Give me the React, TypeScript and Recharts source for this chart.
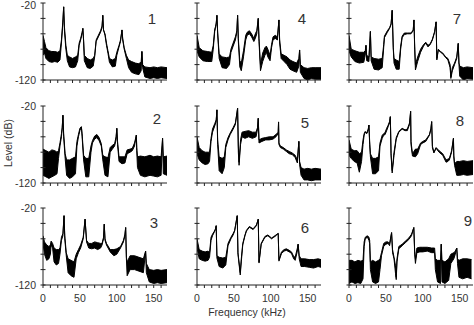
import React from 'react';
import { ComposedChart, Area, XAxis, YAxis } from 'recharts';

// Each point: [frequency kHz, lower level dB, upper level dB].
// Where the spectrum is noisy the two levels span the noise band.
type Pt = [number, number, number];

const spectrum1: Pt[] = [
  [0, -88, -62], [2, -85, -70], [4, -92, -78], [8, -96, -82], [12, -97, -83], [16, -96, -83],
  [20, -97, -84], [23, -94, -82], [25, -72, -68], [27, -45, -42], [28, -25, -25], [29, -55, -50],
  [31, -80, -75], [33, -95, -88], [36, -103, -90], [40, -104, -92], [44, -103, -90], [47, -95, -88],
  [49, -75, -72], [51, -68, -66], [53, -60, -58], [54, -53, -53], [55, -70, -68], [56, -95, -88],
  [60, -104, -92], [64, -105, -94], [68, -102, -92], [70, -90, -88], [72, -70, -68], [75, -64, -62],
  [78, -58, -56], [80, -52, -50], [81, -36, -36], [82, -55, -55], [84, -62, -60], [86, -75, -72],
  [88, -85, -82], [90, -97, -92], [94, -103, -94], [98, -102, -92], [100, -88, -84], [103, -77, -75],
  [105, -70, -68], [107, -55, -55], [108, -68, -66], [110, -80, -78], [113, -92, -88], [116, -104, -94],
  [120, -110, -96], [125, -112, -98], [130, -113, -99], [133, -108, -96], [134, -83, -83], [135, -104, -100],
  [138, -116, -103], [145, -118, -104], [150, -117, -103], [155, -118, -104], [160, -117, -103], [168, -118, -104],
];

const spectrum2: Pt[] = [
  [0, -110, -76], [4, -112, -78], [8, -114, -80], [12, -112, -77], [16, -110, -78], [19, -108, -80],
  [21, -88, -78], [23, -72, -68], [25, -60, -56], [26, -50, -48], [27, -32, -32], [28, -60, -56],
  [30, -88, -82], [32, -110, -90], [36, -114, -90], [40, -112, -88], [44, -108, -86], [46, -72, -66],
  [48, -60, -57], [50, -52, -49], [52, -47, -47], [53, -60, -56], [55, -90, -84], [58, -112, -88],
  [62, -112, -88], [65, -80, -72], [67, -68, -65], [70, -63, -59], [73, -61, -57], [76, -65, -61],
  [79, -72, -69], [81, -90, -84], [84, -110, -86], [88, -112, -87], [91, -80, -74], [94, -76, -71],
  [97, -72, -69], [99, -64, -60], [100, -49, -49], [101, -70, -66], [103, -92, -86], [107, -95, -86],
  [111, -94, -86], [114, -82, -77], [118, -80, -76], [121, -78, -75], [124, -72, -68], [126.5, -57.7, -57.7],
  [127, -78, -74], [128, -100, -86], [132, -110, -85], [138, -112, -86], [145, -110, -84], [150, -111, -86],
  [155, -112, -85], [160, -110, -86], [162, -62, -62], [163, -108, -86], [168, -110, -85],
];

const spectrum3: Pt[] = [
  [0, -66, -56], [2, -80, -64], [5, -88, -68], [8, -86, -70], [10, -80, -68], [11, -68, -63],
  [13, -72, -66], [15, -90, -72], [18, -94, -74], [21, -92, -74], [23, -80, -72], [25, -62, -58],
  [27, -56, -53], [28.5, -30, -30], [29.5, -60, -56], [31.5, -82, -78], [34, -104, -86], [38, -108, -88],
  [42, -110, -90], [45, -86, -80], [48, -78, -74], [51, -72, -68], [54.5, -60, -58], [57, -34.5, -34.5],
  [59, -64, -62], [62, -72, -66], [66, -73, -66], [70, -72, -64], [74, -74, -65], [78, -72, -66],
  [80, -68, -66], [82, -60, -58], [83, -41, -41], [84, -62, -60], [86, -68, -66], [91, -77, -74],
  [96, -82, -74], [100, -80, -73], [105, -72, -70], [109, -64, -62], [111, -56, -54], [112, -45.4, -45.4],
  [113, -86, -84], [114, -108, -90], [118, -100, -82], [124, -100, -82], [130, -102, -84], [136, -104, -86],
  [139, -76, -76], [140, -104, -92], [144, -116, -100], [150, -118, -101], [155, -117, -100], [160, -118, -101],
  [168, -117, -100],
];

const spectrum4: Pt[] = [
  [0, -82, -62], [3, -90, -78], [8, -95, -82], [14, -96, -83], [20, -96, -84], [22, -80, -75],
  [24, -57, -54], [25, -53, -51], [26, -48, -46], [27, -36, -36], [28, -60, -58], [30, -92, -86],
  [34, -104, -90], [40, -105, -91], [44, -100, -90], [46, -84, -80], [49, -76, -72], [52, -68, -64],
  [54, -58, -56], [55, -36, -36], [56, -70, -66], [58, -103, -95], [60, -108, -98], [63, -90, -82],
  [66, -68, -62], [68, -62, -58], [71, -60, -56], [74, -64, -60], [77, -70, -66], [79, -66, -60],
  [81, -60, -56], [83, -40, -40], [84, -70, -66], [86, -108, -100], [89, -96, -85], [92, -88, -78],
  [94, -84, -76], [96, -90, -80], [99, -95, -88], [101, -78, -74], [103, -68, -64], [106, -66, -62],
  [109, -68, -64], [111, -42, -42], [112, -72, -68], [114, -92, -86], [118, -96, -88], [122, -100, -90],
  [126, -106, -94], [130, -108, -96], [135, -110, -98], [138, -102, -92], [139, -81, -81], [140, -110, -100],
  [145, -118, -104], [150, -120, -105], [155, -118, -104], [160, -119, -104], [168, -119, -104],
];

const spectrum5: Pt[] = [
  [0, -82, -60], [3, -90, -74], [7, -94, -78], [11, -96, -80], [15, -95, -80], [17, -92, -80],
  [19, -66, -62], [21, -54, -50], [24, -46, -43], [26, -40, -38], [27, -25, -25], [28, -70, -64],
  [30, -104, -86], [34, -108, -88], [37, -100, -86], [39, -74, -70], [42, -64, -61], [45, -57, -55],
  [49, -50, -48], [52, -44, -42], [55, -23, -23], [56, -80, -72], [57, -97, -93], [59, -70, -64],
  [61, -60, -54], [65, -62, -53], [70, -60, -52], [75, -62, -54], [80, -60, -54], [82, -50, -48],
  [83, -36, -36], [84, -68, -64], [88, -66, -62], [93, -64, -61], [98, -64, -60], [103, -63, -60],
  [107, -60, -57], [110, -56, -54], [110.5, -40.7, -40.7], [111, -70, -68], [113, -74, -72], [117, -76, -74],
  [121, -79, -77], [125, -82, -79], [129, -83, -81], [133, -87, -84], [136, -94, -90], [138, -66, -66],
  [139, -96, -92], [141, -110, -100], [145, -116, -102], [150, -116, -101], [155, -117, -102], [160, -116, -101],
  [168, -116, -102],
];

const spectrum6: Pt[] = [
  [0, -72, -60], [3, -86, -74], [7, -88, -76], [11, -89, -77], [15, -88, -76], [17, -84, -78],
  [19, -62, -58], [21, -56, -54], [23.6, -51, -50], [25, -48, -47], [26, -43, -43], [27, -85, -82],
  [30, -96, -84], [35, -98, -85], [39, -94, -84], [42, -69, -66], [46, -60, -58], [49, -55, -53],
  [51, -50, -49], [54.5, -30, -30], [55.5, -80, -78], [58.6, -107, -104], [60, -90, -86], [62, -68, -66],
  [65, -56, -55], [67, -50, -49], [71, -45, -44], [76, -48, -47], [80.5, -43, -42], [83, -34.5, -34.5],
  [84, -91.5, -90], [87, -67, -66], [92, -58, -57], [96, -56, -55], [101, -60, -59], [104, -58, -57],
  [107, -56, -55], [110, -53, -53], [111, -89, -87], [114.5, -79, -77], [118, -76, -74], [121, -75, -73],
  [125, -77, -75], [128, -79, -77], [131, -86, -83], [133, -88, -84], [136, -76, -72], [137, -67, -67],
  [138.5, -86, -82], [141, -96, -86], [146, -96, -86], [152, -97, -87], [158, -98, -87], [164, -96, -86],
  [168, -97, -87],
];

const spectrum7: Pt[] = [
  [0, -82, -62], [3, -90, -80], [8, -96, -82], [14, -98, -84], [20, -97, -84], [22, -88, -82],
  [23, -75, -75], [24, -95, -88], [27, -96, -90], [29, -57, -57], [30, -95, -90], [34, -106, -92],
  [40, -107, -93], [45, -104, -92], [47, -78, -74], [48, -65, -63], [52, -58, -56], [55, -53, -52],
  [57, -48, -47], [58.5, -29.5, -29.5], [60, -80, -78], [61, -98, -92], [64, -106, -94], [68, -106, -96],
  [70, -80, -76], [72, -65, -63], [75, -61, -59], [79, -60, -59], [84, -60, -59], [87, -56, -55],
  [88, -42, -42], [89, -80, -76], [90, -107, -100], [93, -96, -90], [97, -84, -80], [101, -76, -74],
  [104, -72, -71], [107, -77, -75], [110, -74, -73], [113, -68, -67], [116, -58, -57], [118, -44.5, -44.5],
  [119, -94, -92], [121, -81, -80], [124, -84, -83], [127, -86, -85], [131, -91, -90], [134, -94, -92],
  [137, -104, -100], [138, -118, -116], [140, -108, -104], [143, -100, -98], [146, -92, -90], [148, -72.5, -72.5],
  [149, -100, -98], [150, -115, -102], [155, -120, -104], [160, -118, -103], [168, -119, -104],
];

const spectrum8: Pt[] = [
  [0, -84, -64], [3, -88, -76], [7, -92, -78], [11, -94, -78], [14, -106, -82], [17, -92, -80],
  [19, -70, -64], [20.5, -58, -56], [22, -54, -53], [24, -56, -55], [26, -52, -50], [27, -44.7, -44.7],
  [28, -70, -66], [29, -86, -82], [32, -108, -88], [36, -108, -88], [40, -104, -86], [42, -72, -68],
  [45, -62, -58], [47, -58, -56], [49, -57, -54], [51, -52, -49], [53, -47, -45], [55, -42, -40],
  [56, -33.9, -33.9], [57, -84, -82], [58.5, -107, -104], [61, -84, -80], [64, -63, -61], [67.5, -54, -53],
  [72, -50, -49], [76, -52, -51], [79, -52, -50], [82, -44, -42], [83.5, -27, -27], [84, -70, -66],
  [86, -85, -82], [90, -86, -76], [93, -82, -76], [97, -70, -68], [100, -68, -66], [104, -66, -64],
  [109, -58, -57], [111, -50, -49], [112, -40.3, -40.3], [113, -74, -72], [115, -81, -80], [118, -75, -74],
  [122, -80, -78], [127, -84, -82], [131.5, -93, -90], [134, -92, -89], [136, -90, -88], [139, -80, -78],
  [141.5, -62, -62], [142, -86, -84], [143, -97, -95], [146, -110, -92], [150, -110, -92], [155, -109, -91],
  [160, -110, -92], [168, -109, -91],
];

const spectrum9: Pt[] = [
  [0, -118, -88], [4, -116, -88], [8, -118, -90], [12, -117, -88], [16, -118, -89], [19, -112, -88],
  [20.5, -70, -64], [22, -60, -58], [25, -58, -56], [27, -62, -58], [28, -66, -62], [29, -100, -90],
  [32, -116, -88], [36, -118, -90], [40, -116, -88], [42, -100, -86], [44, -82, -78], [47, -70, -66],
  [50, -67, -64], [53, -66, -64], [55, -69, -66], [57.7, -52, -52], [59, -78, -74], [61, -86, -84],
  [63, -105, -95], [64, -113, -110], [65, -90, -86], [67.5, -73, -70], [72, -69, -67], [76.5, -65, -63],
  [81, -61, -59], [84.7, -56, -54], [87.8, -45.4, -45.4], [89, -80, -76], [90, -92, -86], [92, -78, -72],
  [96, -77, -71], [100, -77, -71], [106, -76, -71], [112, -78, -72], [116, -78, -72], [117, -100, -86],
  [120, -116, -88], [124, -118, -88], [125, -67, -67], [126, -116, -88], [130, -118, -90], [135, -114, -86],
  [138, -92, -80], [142, -86, -78], [144, -80, -76], [146, -72, -72], [147, -92, -86], [149, -110, -88],
  [154, -112, -86], [160, -110, -86], [166, -112, -87],
];

// Panels in column order: first column 1-3, second 4-6, third 7-9.
const spectra: Pt[][] = [
  spectrum1, spectrum2, spectrum3,
  spectrum4, spectrum5, spectrum6,
  spectrum7, spectrum8, spectrum9,
];
const panelNumbers = ['1', '2', '3', '4', '5', '6', '7', '8', '9'];

const freqTicks = [0, 10, 20, 30, 40, 50, 60, 70, 80, 90, 100, 110, 120, 130, 140, 150, 160];
const freqLabels = [0, 50, 100, 150];
const levelTicks = [-120, -100, -80, -60, -40, -20];
const levelLabels = [-20, -120];

const FONT = '"Liberation Sans", Arial, sans-serif';
const INK = '#222';
const TEXT = '#333';

// plot geometry (page pixels)
const COL_X = [43, 197, 349];
const ROW_Y = [3, 106, 208];
const PLOT_W = 124;
const PLOT_H = 77;
const AXIS_W = 40;
const TOP = 8;
const AXIS_H = 25;

// panel-number positions (centre of the digit)
const numberPos: [number, number][] = [
  [152, 18], [157, 118], [154, 222],
  [302, 18], [305, 122], [305, 227],
  [457, 18], [460, 120], [468, 220],
];

function Panel({ data, col, row }: { data: Pt[]; col: number; row: number }) {
  const rows = data.map(([f, lo, hi]) => ({ f, band: [lo, hi] }));
  const showY = col === 0;
  const showX = row === 2;
  const axisY = TOP + PLOT_H;
  // keep the top label of the first row inside the page
  const minBaseline = TOP - ROW_Y[row] + 8.5;

  const xTick = (p: any) => {
    const v = p.payload.value;
    return (
      <g>
        <line x1={p.x} x2={p.x} y1={axisY} y2={axisY + 3} stroke={INK} strokeWidth={1} />
        {showX && freqLabels.includes(v) ? (
          <text x={p.x} y={axisY + 16.5} textAnchor="middle" fontSize={10.5} fontFamily={FONT} fill={TEXT}>
            {v}
          </text>
        ) : null}
      </g>
    );
  };

  const yTick = (p: any) => {
    const v = p.payload.value;
    return (
      <g>
        <line x1={AXIS_W - 2.5} x2={AXIS_W + 2.5} y1={p.y} y2={p.y} stroke={INK} strokeWidth={1} />
        {showY && levelLabels.includes(v) ? (
          <text
            x={AXIS_W - 7}
            y={Math.max(p.y + 3.8, minBaseline)}
            textAnchor="end"
            fontSize={10.5}
            fontFamily={FONT}
            fill={TEXT}
          >
            {v}
          </text>
        ) : null}
      </g>
    );
  };

  return (
    <div style={{ position: 'absolute', left: COL_X[col] - AXIS_W, top: ROW_Y[row] - TOP }}>
      <ComposedChart
        width={AXIS_W + PLOT_W + 4}
        height={TOP + PLOT_H + AXIS_H}
        data={rows}
        margin={{ top: TOP, right: 4, left: 0, bottom: 0 }}
      >
        <XAxis
          dataKey="f"
          type="number"
          domain={[0, 168]}
          ticks={freqTicks}
          interval={0}
          height={AXIS_H}
          stroke={INK}
          tickLine={false}
          tick={xTick}
          allowDataOverflow
        />
        <YAxis
          type="number"
          domain={[-120, -20]}
          ticks={levelTicks}
          interval={0}
          width={AXIS_W}
          stroke={INK}
          tickLine={false}
          tick={yTick}
          allowDataOverflow
        />
        <Area
          dataKey="band"
          type="linear"
          stroke="#000"
          strokeWidth={1}
          fill="#000"
          fillOpacity={1}
          dot={false}
          activeDot={false}
          isAnimationActive={false}
        />
      </ComposedChart>
    </div>
  );
}

export default function App() {
  return (
    <div style={{ position: 'absolute', left: 0, top: 0, width: 474, height: 325, overflow: 'hidden', background: '#fff' }}>
      {spectra.map((s, i) => (
        <Panel key={i} data={s} col={Math.floor(i / 3)} row={i % 3} />
      ))}
      <svg width={474} height={325} style={{ position: 'absolute', left: 0, top: 0, pointerEvents: 'none' }}>
        {panelNumbers.map((n, i) => (
          <text
            key={n}
            x={numberPos[i][0]}
            y={numberPos[i][1] + 5.5}
            textAnchor="middle"
            fontSize={15}
            fontFamily={FONT}
            fill={TEXT}
          >
            {n}
          </text>
        ))}
        <text
          x={247}
          y={315.5}
          textAnchor="middle"
          fontSize={10.5}
          fontFamily={FONT}
          fill={TEXT}
        >
          Frequency (kHz)
        </text>
        <text
          transform="translate(11.5,143) rotate(-90)"
          textAnchor="middle"
          fontSize={10.5}
          fontFamily={FONT}
          fill={TEXT}
        >
          Level (dB)
        </text>
      </svg>
    </div>
  );
}
